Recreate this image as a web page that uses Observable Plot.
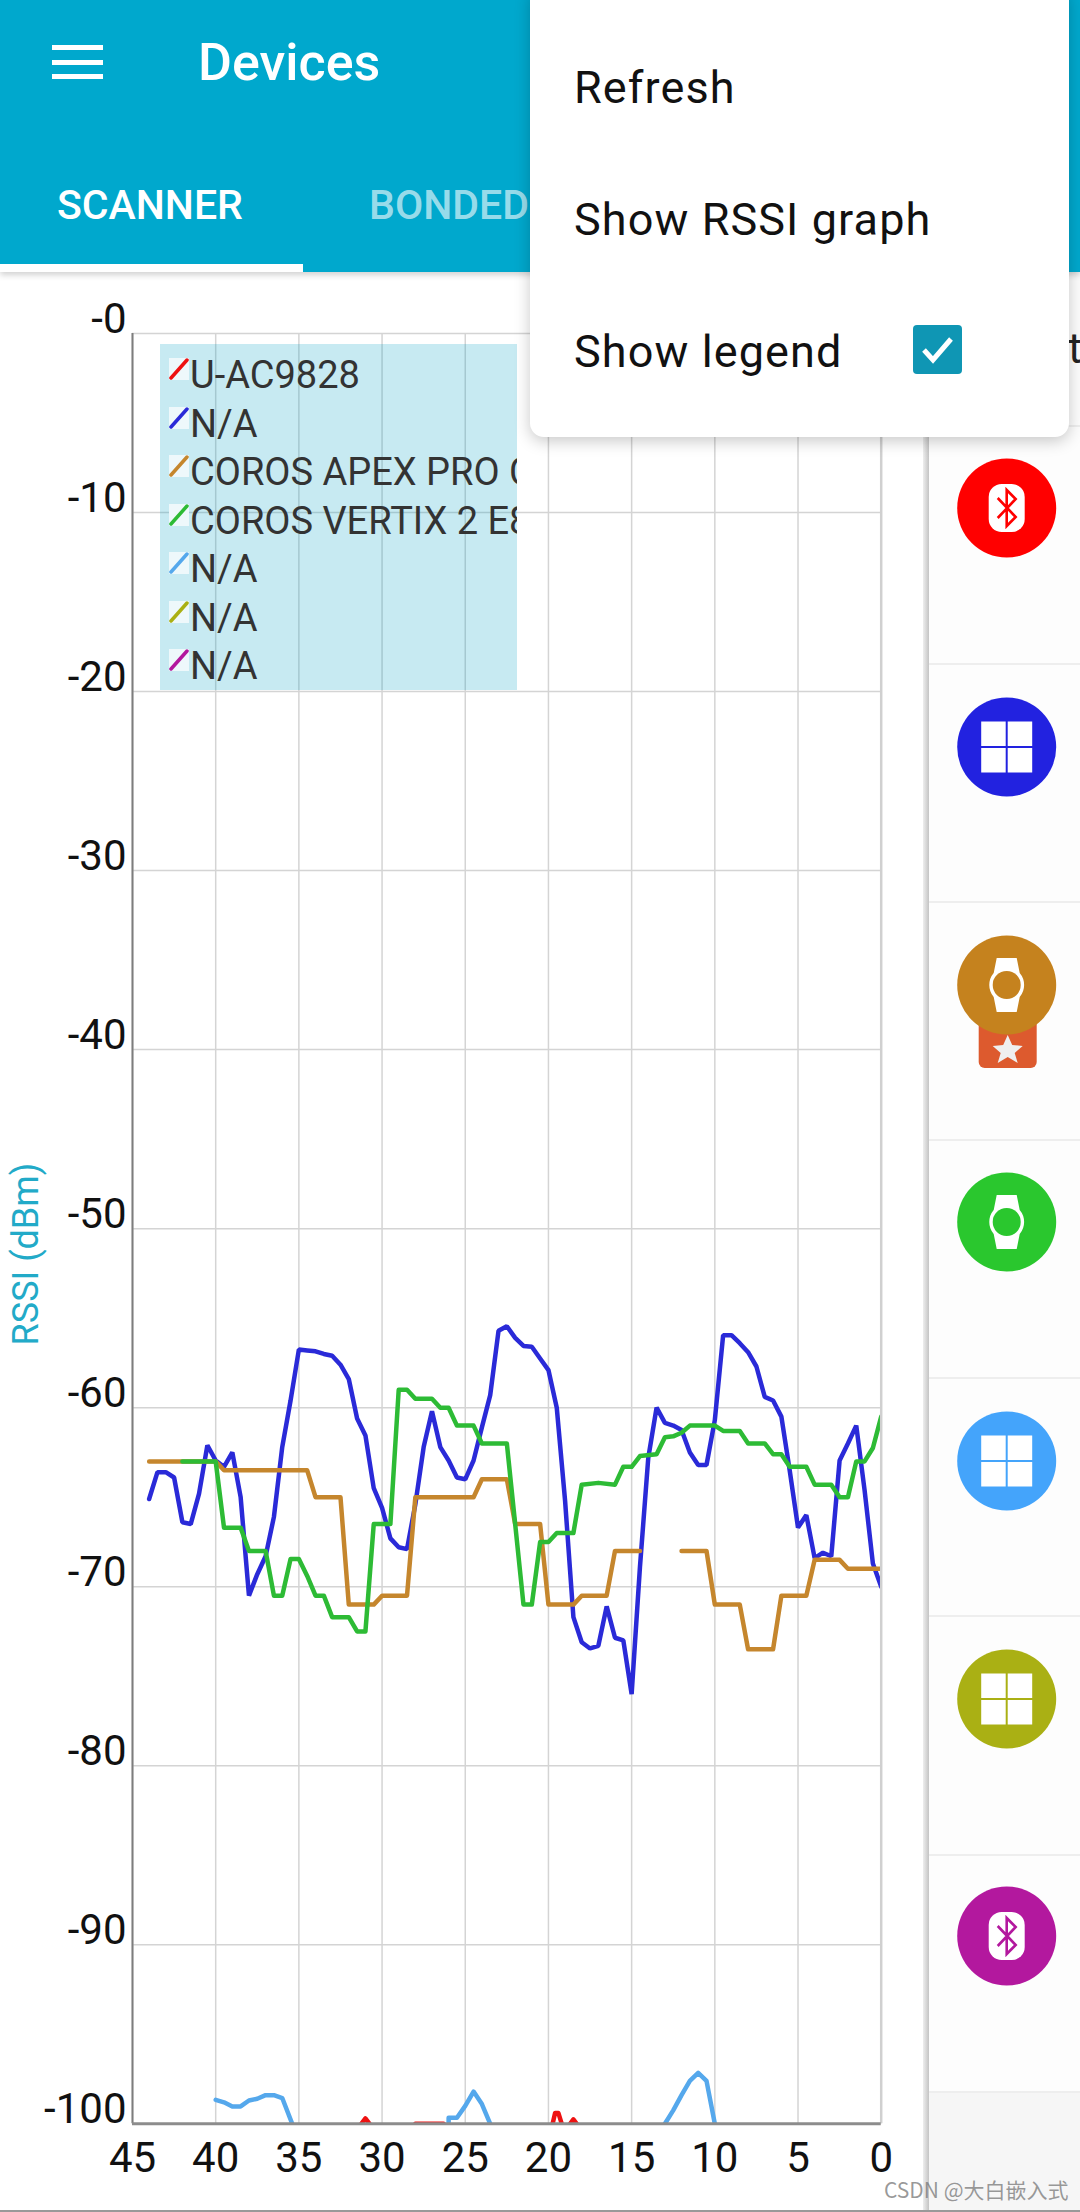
<!DOCTYPE html>
<html><head><meta charset="utf-8">
<script src="https://cdn.jsdelivr.net/npm/d3@7"></script>
<script src="https://cdn.jsdelivr.net/npm/@observablehq/plot@0.6"></script>
<style>
html,body{margin:0;padding:0;background:#fff;width:1080px;height:2212px;overflow:hidden;font-family:Roboto,"Noto Sans",sans-serif}
#stage{position:relative;width:1080px;height:2212px;overflow:hidden}
#stage>svg{position:absolute;left:0;top:0}
.abs{position:absolute}
.t{position:absolute;white-space:nowrap;line-height:1}
</style></head><body><div id="stage"></div>
<script>
const xTicks=[45,40,35,30,25,20,15,10,5,0];
const yTicks=[0,-10,-20,-30,-40,-50,-60,-70,-80,-90,-100];

const blueT=[44,43.5,43,42.5,42,41.5,41,40.5,40,39.5,39,38.5,38,37.5,37,36.5,36,35.5,35,34.5,34,33.5,33,32.5,32,31.5,31,30.5,30,29.5,29,28.5,28,27.5,27,26.5,26,25.5,25,24.5,24,23.5,23,22.5,22,21.5,21,20.5,20,19.5,19,18.5,18,17.5,17,16.5,16,15.5,15,14.5,14,13.5,13,12.5,12,11.5,11,10.5,10,9.5,9,8.5,8,7.5,7,6.5,6,5.5,5,4.5,4,3.5,3,2.5,2,1.5,1,0.5,0];
const blueV=[-65.1,-63.6,-63.6,-63.9,-66.4,-66.5,-64.8,-62.1,-62.95,-63.3,-62.5,-65,-70.5,-69.3,-68.3,-66.1,-62.2,-59.6,-56.75,-56.8,-56.85,-57,-57.1,-57.6,-58.4,-60.6,-61.55,-64.5,-65.6,-67.3,-67.8,-67.9,-65.4,-62.2,-60.2,-62.2,-62.95,-63.9,-64,-62.95,-61.1,-59.3,-55.7,-55.45,-56.1,-56.55,-56.6,-57.25,-57.9,-60,-65.2,-71.7,-73.1,-73.45,-73.3,-71.1,-72.85,-73,-76,-68.9,-62.8,-60,-60.85,-61,-61.25,-62.5,-63.2,-63.2,-60.7,-55.95,-55.95,-56.4,-56.9,-57.7,-59.4,-59.6,-60.5,-63.5,-66.7,-66,-68.4,-68.1,-68.3,-62.95,-62,-61,-64.6,-68.7,-70];

const orangeT=[44,40,39.5,34.5,34,32.5,32,30.5,30,28.5,28,24.5,24,22.5,22,20.5,20,18.5,18,16.5,16,14.5,13,12,10.5,10,8.5,8,6.5,6,4.5,4,2.5,2,0];
const orangeV=[-63,-63,-63.5,-63.5,-65,-65,-71,-71,-70.5,-70.5,-65,-65,-64,-64,-66.5,-66.5,-71,-71,-70.5,-70.5,-68,-68,null,-68,-68,-71,-71,-73.5,-73.5,-70.5,-70.5,-68.5,-68.5,-69,-69];

const greenT=[42,40,39.5,38.5,38,37,36.5,36,35.5,35,34.5,34,33.5,33,32,31.5,31,30.5,29.5,29,28.5,28,27,26.5,26,25.5,24.5,24,22.5,22,21.5,21,20.5,20,19.5,18.5,18,17,16,15.5,15,14.5,13.5,13,12.5,12,11.5,10,9.5,8.5,8,7,6.5,6,5.5,4.5,4,3,2.5,2,1.5,1,0.5,0];
const greenV=[-63,-63,-66.7,-66.7,-68,-68,-70.5,-70.5,-68.45,-68.45,-69.4,-70.5,-70.5,-71.7,-71.7,-72.5,-72.5,-66.5,-66.5,-59,-59,-59.5,-59.5,-60,-60,-61,-61,-62,-62,-66.5,-71,-71,-67.5,-67.5,-67,-67,-64.3,-64.2,-64.3,-63.3,-63.3,-62.7,-62.6,-61.65,-61.6,-61.4,-61,-61,-61.3,-61.3,-62,-62,-62.6,-62.6,-63.3,-63.3,-64.3,-64.3,-65,-65,-63,-63,-62.25,-60.5];

const lightT=[40,39.5,39,38.5,38,37.5,37,36.5,36,35.4,30,26,26,25.5,25,24.5,24,23.5,20,13,12.5,12,11.5,11,10.5,10];
const lightV=[-98.66,-98.8,-99.03,-99.03,-98.7,-98.6,-98.4,-98.4,-98.56,-100,null,-100,-99.66,-99.66,-99,-98.2,-98.9,-100,null,-100,-99.25,-98.4,-97.6,-97.15,-97.6,-100];

const redT=[31.25,31,30.75,29,28,26.3,22,19.75,19.6,19.4,19.2,19,18.7,18.5,18.3];
const redV=[-100,-99.7,-100,null,-100,-100,null,-100,-99.4,-99.4,-100,null,-100,-99.75,-100];

const legendNames=["U-AC9828","N/A","COROS APEX PRO C","COROS VERTIX 2 E8","N/A","N/A","N/A"];
const legendColors=["#ee1111","#2a2ad8","#c5862d","#2dbb35","#55a8ec","#aab014","#b3189e"];
const deviceColors=["#ff0000","#2222e0","#c5821e","#2ac72e","#44a4fb","#aab014","#b3189e"];
const deviceIcons=["bt","win","watch","watch","win","win","bt"];
const menuItems=["Refresh","Show RSSI graph","Show legend"];

const plot=Plot.plot({
  width:1080,height:2212,
  marginLeft:132,marginRight:199.3,marginTop:333,marginBottom:88.7,
  style:{background:"transparent",fontFamily:"Roboto, sans-serif",overflow:"visible"},
  x:{domain:[45,0]},
  y:{domain:[-100,0]},
  marks:[
    Plot.gridX(xTicks,{stroke:"#d4d4d4",strokeOpacity:1,strokeWidth:1.5}),
    Plot.gridY(yTicks,{stroke:"#d4d4d4",strokeOpacity:1,strokeWidth:1.5}),
    Plot.line(redV,{x:redT,y:redV,stroke:"#ee1111",strokeWidth:4.5,clip:true}),
    Plot.line(blueV,{x:blueT,y:blueV,stroke:"#2a2ad8",strokeWidth:4.5,clip:true,strokeLinejoin:"miter"}),
    Plot.line(orangeV,{x:orangeT,y:orangeV,stroke:"#c5862d",strokeWidth:4.5,clip:true}),
    Plot.line(greenV,{x:greenT,y:greenV,stroke:"#2dbb35",strokeWidth:4.5,clip:true}),
    Plot.line(lightV,{x:lightT,y:lightV,stroke:"#55a8ec",strokeWidth:4.5,clip:true}),
    Plot.ruleX([45],{stroke:"#7d7d7d",strokeWidth:2}),
    Plot.ruleX([0],{stroke:"#d0d0d0",strokeWidth:2.5}),
    Plot.ruleY([-100],{stroke:"#8c8c8c",strokeWidth:3}),
    Plot.axisY({ticks:yTicks,tickSize:0,tickPadding:6,dy:-14,fontSize:42,fill:"#111",label:null,
      tickFormat:d=>d===0?"-0":String(d)}),
    Plot.axisX({ticks:xTicks,tickSize:0,tickPadding:18,fontSize:42,fill:"#111",label:null,tickFormat:d=>String(d)}),
  ]
});
const stage=document.getElementById("stage");
stage.appendChild(plot);

const h=[];
// y label
h.push(`<div class="t" style="left:26px;top:1254px;font-size:36px;color:#22aac8;transform:translate(-50%,-50%) rotate(-90deg)">RSSI (dBm)</div>`);
// legend
let lg=`<div class="abs" style="left:160px;top:344px;width:357px;height:346px;background:rgba(0,160,195,.22);overflow:hidden">`;
legendNames.forEach((n,i)=>{
  const cy=31+i*48.5;
  lg+=`<svg class="abs" style="left:9px;top:${cy-17}px" width="20" height="22"><rect width="20" height="22" fill="#eef8fb"/><line x1="2" y1="20" x2="18" y2="2" stroke="${legendColors[i]}" stroke-width="3.5" stroke-linecap="round"/></svg>`;
  lg+=`<div class="t" style="left:30px;top:${cy-19}px;font-size:38px;color:#333">${n}</div>`;
});
lg+=`</div>`;
h.push(lg);
// side panel
h.push(`<div class="abs" style="left:923px;top:272px;width:6px;height:1940px;background:linear-gradient(to right,#eee,#c4c4c4)"></div>`);
h.push(`<div class="abs" style="left:929px;top:272px;width:151px;height:1940px;background:#fdfdfd"></div>`);
h.push(`<div class="abs" style="left:929px;top:2092px;width:151px;height:120px;background:#f6f6f6"></div>`);
[426,664,902,1140,1378,1616,1855,2092].forEach(y=>h.push(`<div class="abs" style="left:929px;top:${y-1}px;width:151px;height:2px;background:#eeeeee"></div>`));
const rows=[508,747,985,1222,1461,1699,1936];
rows.forEach((cy,i)=>{
  const c=deviceColors[i];let g="";
  if(i===2) g+=`<rect x="-28" y="30" width="58" height="53" rx="6" fill="#dd5a2e"/><polygon points="1,50 5.5,60 16,61 8,68 11,78 1,72 -9,78 -6,68 -14,61 -3.5,60" fill="#efefef"/>`;
  g+=`<circle r="49.5" fill="${c}"/>`;
  if(deviceIcons[i]==="win") g+=`<rect x="-25.5" y="-25.5" width="24.5" height="24.5" fill="#fff"/><rect x="1" y="-25.5" width="24.5" height="24.5" fill="#fff"/><rect x="-25.5" y="1" width="24.5" height="24.5" fill="#fff"/><rect x="1" y="1" width="24.5" height="24.5" fill="#fff"/>`;
  if(deviceIcons[i]==="bt") g+=`<rect x="-18" y="-24" width="36" height="48" rx="13" fill="#fff"/><polyline points="-9,-10 9,9 0,18 0,-18 9,-9 -9,10" fill="none" stroke="${c}" stroke-width="2.6"/>`;
  if(deviceIcons[i]==="watch") g+=`<path d="M-10,-27 H10 L13,-12 A18.5,18.5 0 0 1 13,12 L10,27 H-10 L-13,12 A18.5,18.5 0 0 1 -13,-12 Z" fill="#fff"/><circle r="14" fill="${c}"/>`;
  h.push(`<svg class="abs" style="left:929px;top:${cy-60}px;overflow:visible" width="151" height="150"><g transform="translate(77.7,60)">${g}</g></svg>`);
});
// app bar
h.push(`<div class="abs" style="left:0;top:0;width:1080px;height:272px;background:#00a8cd;box-shadow:0 3px 6px rgba(0,0,0,.18)"></div>`);
h.push(`<div class="abs" style="left:0;top:264px;width:303px;height:8px;background:#fff"></div>`);
[45,59.5,74].forEach(y=>h.push(`<div class="abs" style="left:52px;top:${y}px;width:51px;height:5px;background:#fff"></div>`));
h.push(`<div class="t" style="left:198px;top:37px;font-size:52px;font-weight:500;color:#fff">Devices</div>`);
h.push(`<div class="t" style="left:57px;top:185px;font-size:41px;font-weight:500;color:#fff">SCANNER</div>`);
h.push(`<div class="t" style="left:369px;top:185px;font-size:41px;font-weight:500;color:rgba(255,255,255,.62)">BONDED</div>`);
// "t" fragment seen past the menu
h.push(`<div class="t" style="left:1068px;top:328px;font-size:42px;color:#222;width:12px;overflow:hidden">t</div>`);
// menu
let m=`<div class="abs" style="left:530px;top:-14px;width:539px;height:451px;background:#fff;border-radius:14px;box-shadow:0 4px 16px rgba(0,0,0,.22)"></div>`;
[88,220,352].forEach((cy,i)=>{m+=`<div class="t" style="left:574px;top:${cy-23}px;font-size:45px;letter-spacing:1.1px;color:#111">${menuItems[i]}</div>`;});
m+=`<svg class="abs" style="left:913px;top:325px" width="49" height="49"><rect width="49" height="49" rx="4" fill="#0f96b4"/><polyline points="11,25 20,35 38,14" fill="none" stroke="#fff" stroke-width="5"/></svg>`;
h.push(m);
// bottom strip and watermark
h.push(`<div class="abs" style="left:0;top:2210px;width:1080px;height:2px;background:#999"></div>`);
h.push(`<div class="t" style="left:884px;top:2179px;font-size:21px;color:rgba(120,120,120,.75);font-family:'Noto Sans CJK SC',sans-serif">CSDN @大白嵌入式</div>`);
stage.insertAdjacentHTML("beforeend",h.join(""));
</script></body></html>
